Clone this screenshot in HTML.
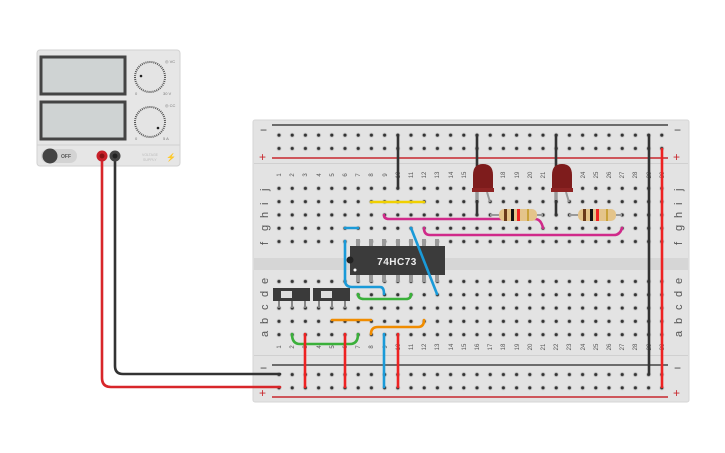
<!DOCTYPE html>
<html><head><meta charset="utf-8"><style>
html,body{margin:0;padding:0;background:#fff;width:725px;height:453px;overflow:hidden}
text{font-family:"Liberation Sans",sans-serif}
</style></head><body>
<svg width="725" height="453" viewBox="0 0 725 453" xmlns="http://www.w3.org/2000/svg">
<defs>
<pattern id="h" x="272.4" y="-4.5" width="13.2" height="13.3" patternUnits="userSpaceOnUse">
<circle cx="6.6" cy="6.65" r="2.6" fill="#cfcfcf"/><circle cx="6.6" cy="6.65" r="1.6" fill="#333"/>
</pattern>
</defs>
<!-- power supply -->
<rect x="37" y="50" width="143" height="116" rx="3" fill="#e6e6e6" stroke="#d2d2d2"/>
<rect x="41" y="57" width="84" height="37" fill="#cfd3d3" stroke="#444" stroke-width="3"/>
<rect x="41" y="102" width="84" height="37" fill="#cfd3d3" stroke="#444" stroke-width="3"/>
<circle cx="150" cy="77" r="15" fill="#e4e4e4" stroke="#555" stroke-width="2" stroke-dasharray="1 1"/>
<circle cx="141" cy="76" r="1.3" fill="#222"/>
<circle cx="150" cy="122" r="15" fill="#e4e4e4" stroke="#555" stroke-width="2" stroke-dasharray="1 1"/>
<circle cx="158" cy="128" r="1.3" fill="#222"/>
<text x="165" y="63" font-size="4" fill="#777">◎ VC</text>
<text x="165" y="107" font-size="4" fill="#777">◎ CC</text>
<text x="135" y="95" font-size="4" fill="#777">0</text><text x="163" y="95" font-size="4" fill="#777">30 V</text>
<text x="135" y="140" font-size="4" fill="#777">0</text><text x="163" y="140" font-size="4" fill="#777">5 A</text>
<line x1="37" y1="145" x2="180" y2="145" stroke="#d0d0d0"/>
<rect x="41" y="149" width="36" height="14" rx="7" fill="#d3d3d3"/>
<circle cx="50" cy="156" r="7.5" fill="#444"/>
<text x="61" y="158" font-size="5" fill="#555" font-weight="bold">OFF</text>
<text x="142" y="156" font-size="3.5" fill="#bbb">VOLTAGE</text><text x="143" y="161" font-size="3.5" fill="#bbb">SUPPLY</text>
<text x="166" y="160" font-size="8" fill="#ccc">⚡</text>
<!-- breadboard -->
<rect x="253" y="120" width="436" height="282" rx="2" fill="#e3e3e3" stroke="#d6d6d6"/>
<rect x="254" y="163" width="434" height="1" fill="#d0d0d0"/>
<rect x="254" y="355" width="434" height="1" fill="#d0d0d0"/>
<rect x="254" y="258" width="434" height="12" fill="#d6d6d6"/>
<line x1="272" y1="125" x2="668" y2="125" stroke="#444" stroke-width="1.5"/>
<line x1="272" y1="158" x2="668" y2="158" stroke="#c8282e" stroke-width="1.5"/>
<line x1="272" y1="365" x2="668" y2="365" stroke="#444" stroke-width="1.5"/>
<line x1="272" y1="397" x2="668" y2="397" stroke="#c8282e" stroke-width="1.5"/>
<text x="260" y="134" font-size="12" fill="#444">−</text>
<text x="259" y="161" font-size="12" fill="#c8282e">+</text>
<text x="674" y="134" font-size="12" fill="#444">−</text>
<text x="673" y="161" font-size="12" fill="#c8282e">+</text>
<text x="260" y="372" font-size="12" fill="#444">−</text>
<text x="259" y="397" font-size="12" fill="#c8282e">+</text>
<text x="674" y="372" font-size="12" fill="#444">−</text>
<text x="673" y="397" font-size="12" fill="#c8282e">+</text>
<!-- holes -->
<rect x="272.4" y="128.7" width="396" height="26.6" fill="url(#h)"/>
<rect x="272.4" y="181.7" width="396" height="66.5" fill="url(#h)"/>
<rect x="272.4" y="274" width="396" height="66.5" fill="url(#h)"/>
<rect x="272.4" y="364.7" width="396" height="26.6" fill="url(#h)"/>
<!-- row letters -->
<g font-size="11" fill="#555">
<g transform="translate(268,188) rotate(-90)"><text x="-3" y="0">j</text></g>
<g transform="translate(268,202) rotate(-90)"><text x="-3" y="0">i</text></g>
<g transform="translate(268,215) rotate(-90)"><text x="-3" y="0">h</text></g>
<g transform="translate(268,228) rotate(-90)"><text x="-3" y="0">g</text></g>
<g transform="translate(268,242) rotate(-90)"><text x="-3" y="0">f</text></g>
<g transform="translate(268,281) rotate(-90)"><text x="-3" y="0">e</text></g>
<g transform="translate(268,294) rotate(-90)"><text x="-3" y="0">d</text></g>
<g transform="translate(268,307) rotate(-90)"><text x="-3" y="0">c</text></g>
<g transform="translate(268,321) rotate(-90)"><text x="-3" y="0">b</text></g>
<g transform="translate(268,334) rotate(-90)"><text x="-3" y="0">a</text></g>
<g transform="translate(682,188) rotate(-90)"><text x="-3" y="0">j</text></g>
<g transform="translate(682,202) rotate(-90)"><text x="-3" y="0">i</text></g>
<g transform="translate(682,215) rotate(-90)"><text x="-3" y="0">h</text></g>
<g transform="translate(682,228) rotate(-90)"><text x="-3" y="0">g</text></g>
<g transform="translate(682,242) rotate(-90)"><text x="-3" y="0">f</text></g>
<g transform="translate(682,281) rotate(-90)"><text x="-3" y="0">e</text></g>
<g transform="translate(682,294) rotate(-90)"><text x="-3" y="0">d</text></g>
<g transform="translate(682,307) rotate(-90)"><text x="-3" y="0">c</text></g>
<g transform="translate(682,321) rotate(-90)"><text x="-3" y="0">b</text></g>
<g transform="translate(682,334) rotate(-90)"><text x="-3" y="0">a</text></g>
</g>
<g font-size="6" fill="#555" text-anchor="middle">
<text transform="translate(281,175) rotate(-90)">1</text><text transform="translate(294,175) rotate(-90)">2</text><text transform="translate(307,175) rotate(-90)">3</text><text transform="translate(321,175) rotate(-90)">4</text><text transform="translate(334,175) rotate(-90)">5</text><text transform="translate(347,175) rotate(-90)">6</text><text transform="translate(360,175) rotate(-90)">7</text><text transform="translate(373,175) rotate(-90)">8</text><text transform="translate(387,175) rotate(-90)">9</text><text transform="translate(400,175) rotate(-90)">10</text><text transform="translate(413,175) rotate(-90)">11</text><text transform="translate(426,175) rotate(-90)">12</text><text transform="translate(439,175) rotate(-90)">13</text><text transform="translate(453,175) rotate(-90)">14</text><text transform="translate(466,175) rotate(-90)">15</text><text transform="translate(479,175) rotate(-90)">16</text><text transform="translate(492,175) rotate(-90)">17</text><text transform="translate(505,175) rotate(-90)">18</text><text transform="translate(519,175) rotate(-90)">19</text><text transform="translate(532,175) rotate(-90)">20</text><text transform="translate(545,175) rotate(-90)">21</text><text transform="translate(558,175) rotate(-90)">22</text><text transform="translate(571,175) rotate(-90)">23</text><text transform="translate(585,175) rotate(-90)">24</text><text transform="translate(598,175) rotate(-90)">25</text><text transform="translate(611,175) rotate(-90)">26</text><text transform="translate(624,175) rotate(-90)">27</text><text transform="translate(637,175) rotate(-90)">28</text><text transform="translate(651,175) rotate(-90)">29</text><text transform="translate(664,175) rotate(-90)">30</text>
<text transform="translate(281,347) rotate(-90)">1</text><text transform="translate(294,347) rotate(-90)">2</text><text transform="translate(307,347) rotate(-90)">3</text><text transform="translate(321,347) rotate(-90)">4</text><text transform="translate(334,347) rotate(-90)">5</text><text transform="translate(347,347) rotate(-90)">6</text><text transform="translate(360,347) rotate(-90)">7</text><text transform="translate(373,347) rotate(-90)">8</text><text transform="translate(387,347) rotate(-90)">9</text><text transform="translate(400,347) rotate(-90)">10</text><text transform="translate(413,347) rotate(-90)">11</text><text transform="translate(426,347) rotate(-90)">12</text><text transform="translate(439,347) rotate(-90)">13</text><text transform="translate(453,347) rotate(-90)">14</text><text transform="translate(466,347) rotate(-90)">15</text><text transform="translate(479,347) rotate(-90)">16</text><text transform="translate(492,347) rotate(-90)">17</text><text transform="translate(505,347) rotate(-90)">18</text><text transform="translate(519,347) rotate(-90)">19</text><text transform="translate(532,347) rotate(-90)">20</text><text transform="translate(545,347) rotate(-90)">21</text><text transform="translate(558,347) rotate(-90)">22</text><text transform="translate(571,347) rotate(-90)">23</text><text transform="translate(585,347) rotate(-90)">24</text><text transform="translate(598,347) rotate(-90)">25</text><text transform="translate(611,347) rotate(-90)">26</text><text transform="translate(624,347) rotate(-90)">27</text><text transform="translate(637,347) rotate(-90)">28</text><text transform="translate(651,347) rotate(-90)">29</text><text transform="translate(664,347) rotate(-90)">30</text>
</g>
<!-- slide switches -->
<g fill="#888"><rect x="278" y="300" width="2" height="8"/><rect x="291" y="300" width="2" height="8"/><rect x="304" y="300" width="2" height="8"/><rect x="318" y="300" width="2" height="8"/><rect x="331" y="300" width="2" height="8"/><rect x="344" y="300" width="2" height="8"/></g>
<rect x="273" y="288" width="37" height="13" fill="#3a3a3a"/><rect x="281" y="291" width="11" height="7" fill="#ddd"/>
<rect x="313" y="288" width="37" height="13" fill="#3a3a3a"/><rect x="321" y="291" width="11" height="7" fill="#ddd"/>
<!-- chip -->
<g fill="#999"><rect x="356" y="239" width="4" height="8"/><rect x="369" y="239" width="4" height="8"/><rect x="382" y="239" width="4" height="8"/><rect x="396" y="239" width="4" height="8"/><rect x="409" y="239" width="4" height="8"/><rect x="422" y="239" width="4" height="8"/><rect x="435" y="239" width="4" height="8"/>
<rect x="356" y="273" width="4" height="9"/><rect x="369" y="273" width="4" height="9"/><rect x="382" y="273" width="4" height="9"/><rect x="396" y="273" width="4" height="9"/><rect x="409" y="273" width="4" height="9"/><rect x="422" y="273" width="4" height="9"/><rect x="435" y="273" width="4" height="9"/></g>
<rect x="350" y="246" width="95" height="29" fill="#3b3b3b"/>
<circle cx="350" cy="260" r="3.5" fill="#222"/><circle cx="355" cy="270" r="1.5" fill="#fff"/>
<text x="397" y="265" font-size="10" fill="#eee" text-anchor="middle" font-family="Liberation Mono,monospace" font-weight="bold" letter-spacing="0.5">74HC73</text>
<!-- wires -->
<g fill="none" stroke-linecap="round" stroke-width="2.6">
<path d="M102 156 V378 Q102 387 111 387 H280" stroke="#d8262a"/>
<path d="M115 156 V366 Q115 374 123 374 H280" stroke="#333"/>
<line x1="398" y1="135" x2="398" y2="188" stroke="#333"/>
<line x1="477" y1="135" x2="477" y2="215" stroke="#333"/>
<line x1="556" y1="135" x2="556" y2="215" stroke="#333"/>
<line x1="649" y1="135" x2="649" y2="374" stroke="#333"/>
<line x1="662" y1="149" x2="662" y2="387" stroke="#e22"/>
<line x1="371" y1="202" x2="424" y2="202" stroke="#f0d000"/>
<path d="M384 215 Q384 219 389 219 H535 Q541 219 543 228" stroke="#d02a8a"/>
<path d="M424 228 Q424 235 430 235 H614 Q620 235 622 228" stroke="#d02a8a"/>
<line x1="345" y1="228" x2="358" y2="228" stroke="#1a9ad8"/>
<path d="M345 241 V280 Q345 287 352 287 H380 Q384 287 384 294" stroke="#1a9ad8"/>
<line x1="411" y1="228" x2="437" y2="294" stroke="#1a9ad8"/>
<path d="M358 294 Q358 299 364 299 H406 Q411 299 411 294" stroke="#3ab03a"/>
<path d="M292 334 Q292 344 300 344 H350 Q358 344 358 334" stroke="#3ab03a"/>
<line x1="332" y1="320" x2="371" y2="320" stroke="#f08c00"/>
<path d="M371 334 Q371 327 378 327 H418 Q424 327 424 320" stroke="#f08c00"/>
<line x1="305" y1="334" x2="305" y2="387" stroke="#e22"/>
<line x1="345" y1="334" x2="345" y2="387" stroke="#e22"/>
<line x1="398" y1="334" x2="398" y2="387" stroke="#e22"/>
<line x1="384" y1="334" x2="384" y2="387" stroke="#1a9ad8"/>
</g>
<!-- LEDs -->
<g stroke="#999" stroke-width="2" fill="none">
<line x1="477" y1="190" x2="477" y2="200"/><path d="M487 192 L490 202"/>
<line x1="556" y1="190" x2="556" y2="200"/><path d="M566 192 L569 202"/>
<line x1="490" y1="215" x2="543" y2="215"/><line x1="569" y1="215" x2="622" y2="215"/>
</g>
<path d="M473 191 V175 Q473 164 483 164 Q493 164 493 175 V191 Z" fill="#7e1c1c"/>
<rect x="472" y="188" width="22" height="4" fill="#8e2424"/>
<path d="M552 191 V175 Q552 164 562 164 Q572 164 572 175 V191 Z" fill="#7e1c1c"/>
<rect x="551" y="188" width="22" height="4" fill="#8e2424"/>
<!-- resistors -->
<rect x="499" y="209" width="38" height="12" rx="5" fill="#e4c48a"/>
<rect x="504" y="209" width="3" height="12" fill="#6b3a1a"/><rect x="511" y="209" width="3" height="12" fill="#111"/><rect x="517" y="209" width="3" height="12" fill="#e22"/><rect x="527" y="209" width="2" height="12" fill="#c9a23a"/>
<rect x="578" y="209" width="38" height="12" rx="5" fill="#e4c48a"/>
<rect x="583" y="209" width="3" height="12" fill="#6b3a1a"/><rect x="590" y="209" width="3" height="12" fill="#111"/><rect x="596" y="209" width="3" height="12" fill="#e22"/><rect x="606" y="209" width="2" height="12" fill="#c9a23a"/>
<!-- terminals -->
<circle cx="102" cy="156" r="5.5" fill="#c8202a"/><circle cx="102" cy="156" r="2.5" fill="#8a1015"/>
<circle cx="115" cy="156" r="5.5" fill="#444"/><circle cx="115" cy="156" r="2.5" fill="#222"/>
</svg>
</body></html>
